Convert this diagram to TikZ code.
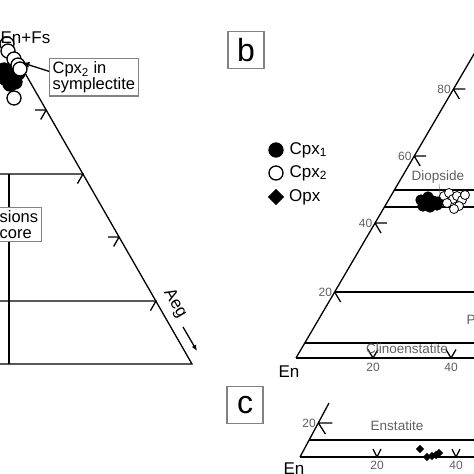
\documentclass[tikz,border=0pt]{standalone}
\usepackage{fontspec}
\setmainfont{Liberation Sans}
\usepackage{xcolor}
\definecolor{labelgray}{RGB}{95,95,95}
\definecolor{boxgray}{RGB}{130,130,130}
\usetikzlibrary{positioning}
\usetikzlibrary{arrows}
\usetikzlibrary{arrows.meta}
\usetikzlibrary{shapes,calc}
\tikzset{cpx one/.style={circle,fill=black,draw,minimum size=14pt,inner sep=0pt},
  cpx two/.style={circle,fill=white,draw,minimum size=14pt,inner sep=0pt},
  opx pt/.style={diamond,fill=black,minimum size=9pt,inner sep=0pt},
  big txt/.style={font=\fontsize{17}{17}\selectfont},
  note box/.style={draw=boxgray,fill=white,inner sep=3pt,align=left,font=\fontsize{16.5}{16}\selectfont},
  panel box/.style={draw=boxgray,minimum width=36pt,minimum height=37pt,inner sep=0pt,font=\fontsize{32}{32}\selectfont},
  field lbl/.style={text=labelgray,font=\fontsize{13.5}{14}\selectfont,inner sep=0pt},
  tick lbl/.style={text=labelgray,font=\fontsize{12}{12}\selectfont,inner sep=0pt},}

\begin{document}
\begin{tikzpicture}[x=1pt,y=-1pt,line width=1.3pt,>=stealth']
	\useasboundingbox (0,0) rectangle (474,474);
	\clip (0,0) rectangle (474,474);

	% (a) Quad - Jd - Aeg
	\coordinate (aTop) at (6,40);
	\coordinate (aAeg) at (192,364);
	\draw (aTop) -- (aAeg) -- (-5,364);
	\draw (-5,174) -- (83,174) -- ++(-5.5,9.5);
	\draw (-5,301) -- (156,301) -- ++(-5.5,9.5);
	\draw (9,174) -- (9,364);
	\foreach \y/\x in {110/46.2,237/119.1}
	    \draw (\x,\y) -- ++(-11,0) (\x,\y) -- ++(-5.5,9.5);
	\node[note box,anchor=north west] (incl) at (-4,207) {sions\\core};

	\foreach \x/\y [count=\i] in {4/70,9/72,18/73,5/78,12/78,15/82,10/84}
	    \node[cpx one] (ca\i) at (\x,\y) {};
	\foreach \x/\y [count=\i] in {7/44,8/51,14/59,18/65,20/69,14/98}
	    \node[cpx two] (oa\i) at (\x,\y) {};
	\node[big txt,anchor=base west,inner sep=0pt] (enfs) at (0,43) {En+Fs};

	\node[note box,anchor=north west] (sympl) at (49,58) {Cpx\textsubscript{2} in\\symplectite};
	\coordinate (sympl tip) at (23,63);
	\draw[->] (sympl.west) ++(0,-6) -- (sympl tip);

	\node[big txt,rotate=-60] (aeg) at (175,304) {Aeg};
	\coordinate (aeg s) at (183,327);
	\coordinate (aeg e) at (197,351);
	\draw[-{Latex[length=6pt,width=5pt]}] (aeg s) -- (aeg e);

	% (b) Wo - En - Fs
	\node[panel box] (pb) at (246,50) {b};
	\coordinate (bEn) at (296,358);
	\draw (bEn) -- (491,25);
	\foreach \y in {190,207,292,343,358}
	    \draw ({296+(358-\y)*0.585},\y) -- (480,\y);
	\foreach \y/\t in {89/80,156/60,223/40,292/20} {
	    \coordinate (bt\t) at ({296+(358-\y)*0.585},\y);
	    \draw (bt\t) -- ++(12,0) (bt\t) -- ++(6,10);
	    \node[tick lbl,anchor=east] (btl\t) at ($(bt\t)+(-2,0)$) {\t};
	}
	\foreach \x/\t in {373/20,451/40} {
	    \draw (\x-5,349.5) -- (\x,358) -- (\x+5,349.5);
	    \node[tick lbl,anchor=north] (bbl\t) at (\x,362) {\t};
	}
	\node[big txt,anchor=base west,inner sep=0pt] (benl) at (278,377) {En};

	\node[cpx one] (lg1) at (276,150) {};
	\node[cpx two] (lg2) at (276,173) {};
	\node[opx pt,minimum size=17pt] (lg3) at (276,197) {};
	\node[big txt,right=2pt of lg1] (lg1t) {Cpx\textsubscript{1}};
	\node[big txt,right=2pt of lg2] (lg2t) {Cpx\textsubscript{2}};
	\node[big txt,right=0pt of lg3] (lg3t) {Opx};

	\node[field lbl] (diop) at (438,177) {Diopside};
	\draw[thin,labelgray] (439,184) -- (440,195);
	\foreach \x/\y [count=\i] in {421/200,426/204,428/197,433/201,437/205,423/206,430/207,438/202}
	    \node[cpx one,minimum size=10pt] (cb\i) at (\x,\y) {};
	\foreach \x/\y [count=\i] in {444/196,449/193,453/199,457/196,462/200,447/203,465/195,459/206,454/209}
	    \node[cpx two,minimum size=9pt,line width=0.8pt] (ob\i) at (\x,\y) {};
	\node[field lbl,anchor=west] (pig) at (466,320) {P};
	\node[field lbl] (cen) at (407,349) {Clinoenstatite};

	% (c) Opx
	\node[panel box] (pc) at (245,405) {c};
	\coordinate (cEn) at (300,457);
	\draw (cEn) -- (329,403);
	\draw (309,440) -- (480,440);
	\draw (cEn) -- (480,457);
	\coordinate (ct20) at (318.4,423);
	\draw (ct20) -- ++(14,0) (ct20) -- ++(7,11);
	\node[tick lbl,anchor=east] (ctl20) at ($(ct20)+(-2,0)$) {20};
	\foreach \x/\t in {377/20,456/40} {
	    \draw (\x-4,449) -- (\x,457) -- (\x+4,449);
	    \node[tick lbl,anchor=north] (cbl\t) at (\x,460) {\t};
	}
	\node[field lbl] (enst) at (397,426) {Enstatite};
	\foreach \x/\y [count=\i] in {420/449,427/457,432/456,436/455,439/453}
	    \node[opx pt] (dc\i) at (\x,\y) {};
	\node[big txt,anchor=base west,inner sep=0pt] (cenl) at (283,474.5) {En};
\end{tikzpicture}
\end{document}
